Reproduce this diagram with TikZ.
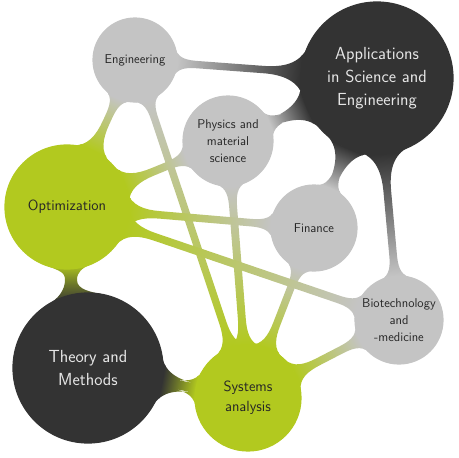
\documentclass[tikz,border=0pt]{standalone}
\usetikzlibrary{mindmap,backgrounds}
\definecolor{cgreen}{RGB}{178,201,31}
\definecolor{cgray}{RGB}{196,196,196}
\definecolor{cdark}{RGB}{51,51,51}
\tikzset{
  cnode/.style={concept, circle, inner sep=0pt, outer sep=0pt, align=center, font=\sffamily},
  graynode/.style={cnode, concept color=cgray, fill=cgray, text=black!85},
  greennode/.style={cnode, concept color=cgreen, fill=cgreen, text=black!85},
  darknode/.style={cnode, concept color=cdark, fill=cdark, text=white!90!black},
  smallfont/.style={font=\sffamily\fontsize{12.8}{16.7}\selectfont},
  midfont/.style={font=\sffamily\fontsize{14.8}{20}\selectfont},
  bigfont/.style={font=\sffamily\fontsize{17.5}{23}\selectfont},
  cbar/.style={line width=9pt},
  neckbar/.style={top color=cgreen, bottom color=cdark, middle color=cgreen!45!cdark, draw=none}
}
\begin{document}
\begin{tikzpicture}[x=1pt,y=-1pt,mindmap]
\useasboundingbox (0,0) rectangle (459,458);
\node[graynode, smallfont, text width=64pt, minimum size=84pt] (eng) at (135,60) {Engineering};
\node[darknode, bigfont, text width=110pt, minimum size=152pt] (app) at (377,78) {Applications\\in Science and\\Engineering};
\node[graynode, smallfont, text width=64pt, minimum size=90pt] (phy) at (228,141) {Physics and\\material\\science};
\node[greennode, midfont, text width=84pt, minimum size=124pt] (opt) at (67,207) {Optimization};
\node[graynode, smallfont, text width=50pt, minimum size=86pt] (fin) at (314,228) {Finance};
\node[graynode, smallfont, text width=76pt, minimum size=88pt] (bio) at (399,320) {Biotechnology\\and\\-medicine};
\node[darknode, bigfont, text width=86pt, minimum size=150pt] (the) at (88,368) {Theory and\\Methods};
\node[greennode, midfont, text width=60pt, minimum size=106pt] (sys) at (248,398) {Systems\\analysis};
\begin{pgfonlayer}{background}
\path[cbar] (eng) to[circle connection bar switch color=from (cgray) to (cdark)] (app);
\path[cbar] (phy) to[circle connection bar switch color=from (cgray) to (cdark)] (app);
\path[cbar] (fin) to[circle connection bar switch color=from (cgray) to (cdark)] (app);
\path[cbar] (bio) to[circle connection bar switch color=from (cgray) to (cdark)] (app);
\path[cbar] (eng) to[circle connection bar switch color=from (cgray) to (cgreen)] (opt);
\path[cbar] (eng) to[circle connection bar switch color=from (cgray) to (cgreen)] (sys);
\path[cbar] (phy) to[circle connection bar switch color=from (cgray) to (cgreen)] (opt);
\path[cbar] (phy) to[circle connection bar switch color=from (cgray) to (cgreen)] (sys);
\path[cbar] (fin) to[circle connection bar switch color=from (cgray) to (cgreen)] (opt);
\path[cbar] (fin) to[circle connection bar switch color=from (cgray) to (cgreen)] (sys);
\path[cbar] (bio) to[circle connection bar switch color=from (cgray) to (cgreen)] (opt);
\path[cbar] (bio) to[circle connection bar switch color=from (cgray) to (cgreen)] (sys);
\shade[neckbar] (opt.-111) .. controls (60,271) and (65,272) .. (65,280)
  .. controls (65,290) and (58,299) .. (the.122) -- (the.79)
  .. controls (92,292) and (77,290) .. (77,280)
  .. controls (77,272) and (82,268) .. (opt.-66) -- cycle;
\path[cbar] (the) to[circle connection bar switch color=from (cdark) to (cgreen)] (sys);
\end{pgfonlayer}
\end{tikzpicture}
\end{document}
